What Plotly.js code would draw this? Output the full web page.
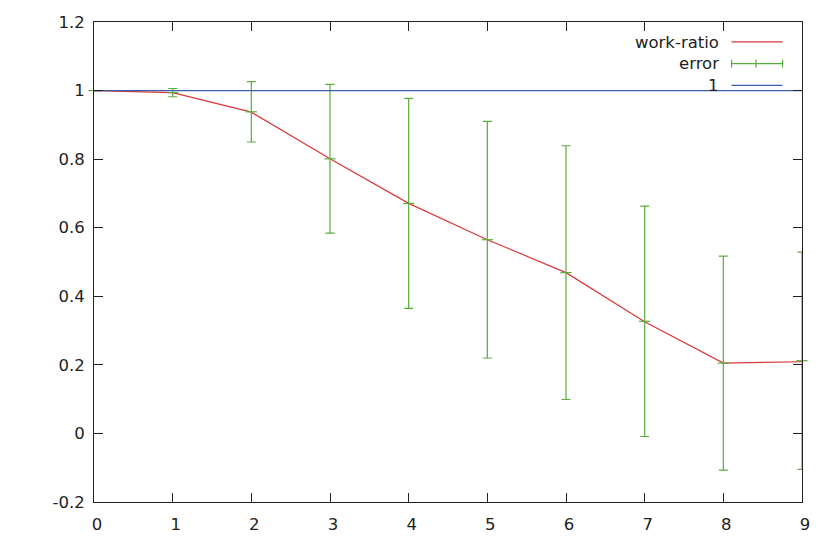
<!DOCTYPE html>
<html>
<head>
<meta charset="utf-8">
<script src="https://cdn.plot.ly/plotly-3.0.1.min.js"></script>
<style>html,body{margin:0;padding:0;background:#fff;}#plot{width:825px;height:547px;}</style>
</head>
<body>
<div id="plot"></div>
<script>
var xs = [0, 1, 2, 3, 4, 5, 6, 7, 8, 9];
var workRatio = [1.0, 0.994, 0.937, 0.801, 0.671, 0.565, 0.469, 0.326, 0.205, 0.209];
var errorMean = [1.0, 0.994, 0.938, 0.801, 0.671, 0.565, 0.469, 0.327, 0.205, 0.212];
var errorSize = [0.0, 0.012, 0.088, 0.217, 0.306, 0.345, 0.370, 0.336, 0.312, 0.317];
var oneX = [0, 9];
var oneY = [1, 1];
var seriesNames = ['work-ratio', 'error', '1'];
var xTicks = [0, 1, 2, 3, 4, 5, 6, 7, 8, 9];
var yTicks = [-0.2, 0, 0.2, 0.4, 0.6, 0.8, 1, 1.2];
var yTickText = ['-0.2', '0', '0.2', '0.4', '0.6', '0.8', '1', '1.2'];

var RED = '#d8383a', GREEN = '#5aac3c', BLUE = '#3e5ea8';
var FONT = 'DejaVu Sans, sans-serif';
var FS = 16.5;

var traces = [
  {x: xs, y: workRatio, mode: 'lines', name: seriesNames[0],
   line: {color: RED, width: 1.2}, showlegend: false},
  {x: xs, y: errorMean, mode: 'markers', name: seriesNames[1],
   marker: {symbol: 'line-ew-open', size: 8, color: GREEN, line: {color: GREEN, width: 1.2}},
   error_y: {type: 'data', array: errorSize, visible: true, color: GREEN, thickness: 1.2, width: 4.5},
   cliponaxis: false, showlegend: false},
  {x: oneX, y: oneY, mode: 'lines', name: seriesNames[2],
   line: {color: BLUE, width: 1.2}, showlegend: false}
];

var axisCommon = {
  showline: true, linecolor: '#222', linewidth: 1, mirror: 'ticks',
  ticks: 'inside', ticklen: 9, tickcolor: '#222', tickwidth: 1,
  showgrid: false, zeroline: false,
  tickfont: {family: FONT, size: FS, color: '#222'}
};

function px(x) { return (x - 93.5) / (802 - 93.5); }
function py(y) { return (502.3 - y) / (502.3 - 22.4); }

var legendY = [42.5, 64, 86];
var annotations = [];
var shapes = [];
for (var i = 0; i < seriesNames.length; i++) {
  annotations.push({
    xref: 'paper', yref: 'paper', x: px(721), y: py(legendY[i]),
    text: seriesNames[i], showarrow: false, xanchor: 'right', yanchor: 'middle',
    xshift: 0, font: {family: FONT, size: FS, color: '#222'}
  });
}
shapes.push({type: 'line', xref: 'paper', yref: 'paper', x0: px(731.5), x1: px(782.5), y0: py(42.3), y1: py(42.3), line: {color: RED, width: 1.2}});
shapes.push({type: 'line', xref: 'paper', yref: 'paper', x0: px(731.5), x1: px(782.5), y0: py(64), y1: py(64), line: {color: GREEN, width: 1.2}});
[731.5, 756, 782.5].forEach(function (xx) {
  shapes.push({type: 'line', xref: 'paper', yref: 'paper', x0: px(xx), x1: px(xx), y0: py(60), y1: py(68), line: {color: GREEN, width: 1.2}});
});
shapes.push({type: 'line', xref: 'paper', yref: 'paper', x0: px(731.5), x1: px(782.5), y0: py(85.7), y1: py(85.7), line: {color: BLUE, width: 1.2}});

var layout = {
  width: 825, height: 547,
  margin: {l: 93.5, r: 23, t: 22.4, b: 44.7, pad: 0},
  paper_bgcolor: '#fff', plot_bgcolor: '#fff',
  showlegend: false,
  font: {family: FONT, size: FS, color: '#222'},
  xaxis: Object.assign({}, axisCommon, {range: [0, 9], tickmode: 'array', tickvals: xTicks, ticklabelstandoff: 7, ticklabelshift: 3}),
  yaxis: Object.assign({}, axisCommon, {range: [-0.2, 1.2], tickmode: 'array', tickvals: yTicks, ticktext: yTickText, ticklabelstandoff: 5}),
  annotations: annotations,
  shapes: shapes
};

Plotly.newPlot('plot', traces, layout, {displayModeBar: false, staticPlot: true});
</script>
</body>
</html>
